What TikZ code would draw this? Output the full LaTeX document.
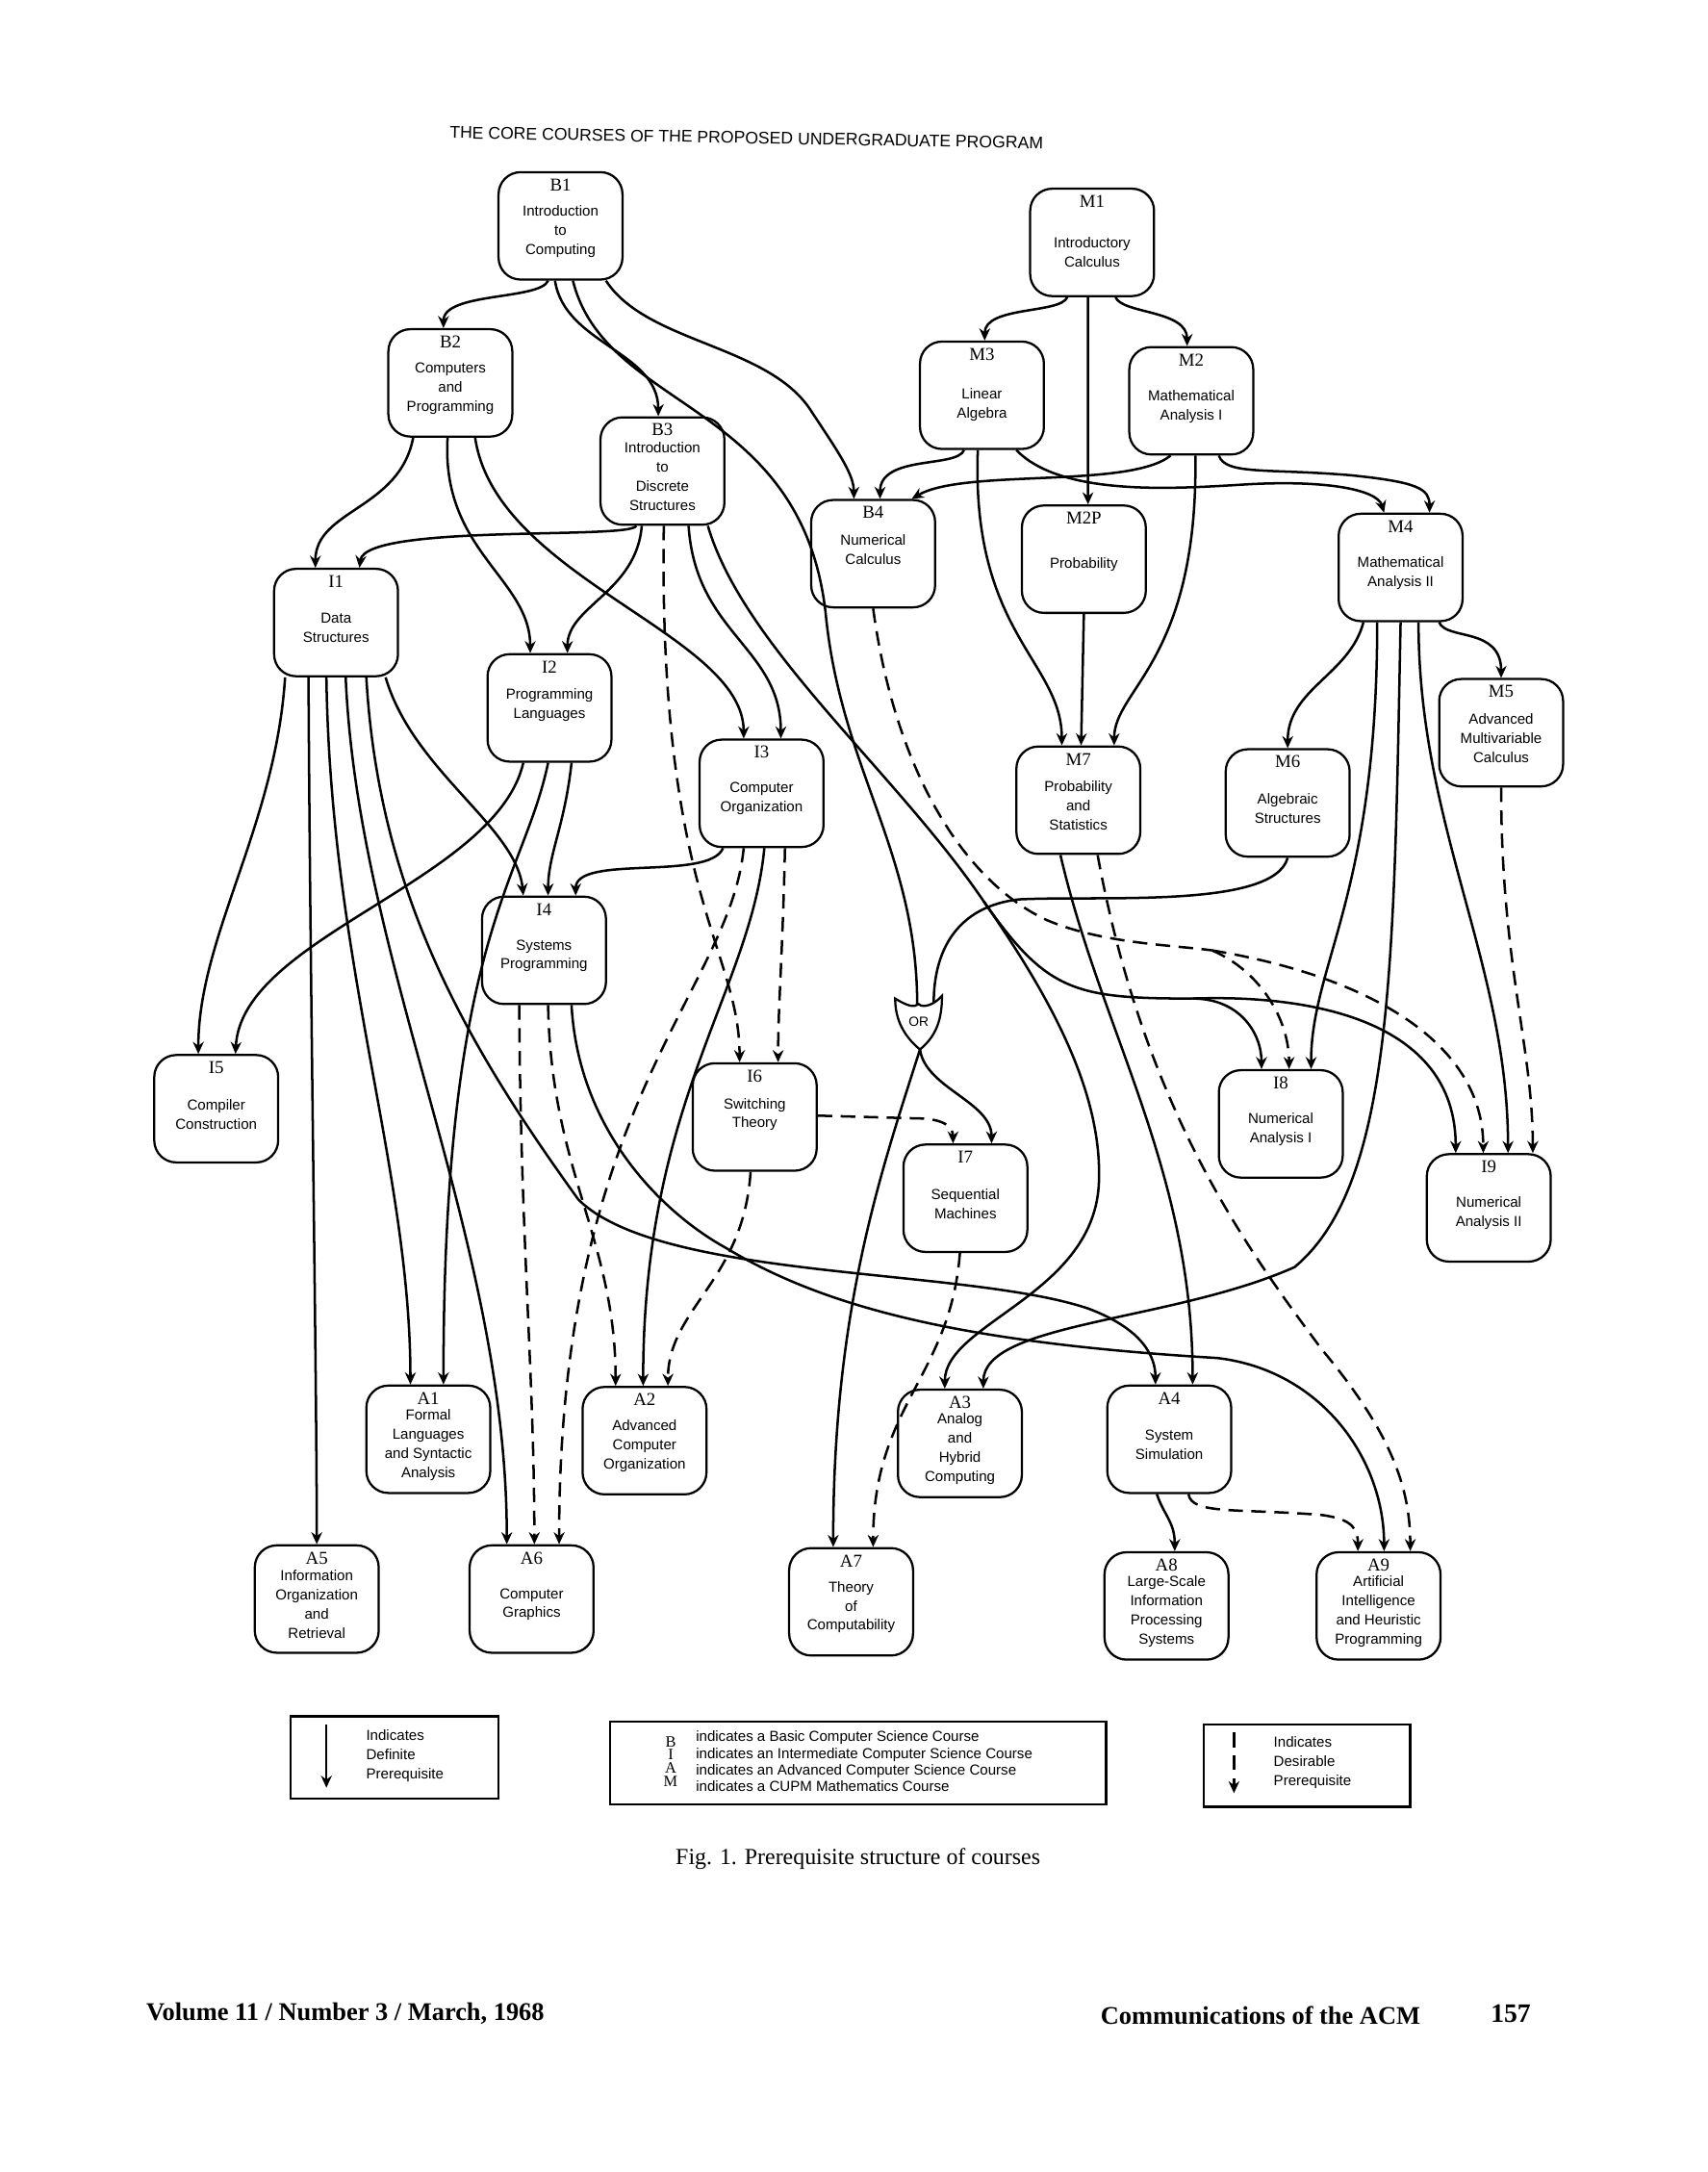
\documentclass[tikz,border=0pt]{standalone}
\usepackage{fontspec}
\setmainfont{Liberation Serif}
\setsansfont{Liberation Sans}
\usetikzlibrary{arrows.meta}
\newfontfamily\boxfont{Liberation Sans}
\tikzset{
  cbox/.style={draw, line width=0.9pt, rounded corners=0.32cm, minimum width=1.8cm, minimum height=1.56cm, inner sep=0pt},
  clab/.style={font=\rmfamily\fontsize{7.5}{8}\selectfont, inner sep=0pt},
  ctxt/.style={font=\boxfont\fontsize{6}{7.9}\selectfont, align=center, inner sep=0pt},
  defe/.style={line width=1pt, -{Stealth[length=5pt,width=4.5pt]}},
  desi/.style={line width=1pt, dash pattern=on 6pt off 3.5pt, -{Stealth[length=5pt,width=4.5pt]}},
  plain/.style={line width=1pt},
}
\newcommand\course[5]{%
  \node[cbox] (#1) at (#2,#3) {};
  \node[clab] at ([yshift=-0.2cm]#1.north) {#4};
  \node[ctxt] at ([yshift=-0.08cm]#1.center) {#5};}
\begin{document}
\begin{tikzpicture}[x=0.02cm,y=-0.02cm]
\useasboundingbox (0,0) rectangle (1240,1577);
\fill[white] (0,0) rectangle (1240,1577);
% title
\node[font=\sffamily\fontsize{7}{8}\selectfont, rotate=-1] at (542,100) {THE CORE COURSES OF THE PROPOSED UNDERGRADUATE PROGRAM};
% courses
\course{B1}{407}{164}{B1}{Introduction\\to\\Computing}
\course{B2}{327}{278}{B2}{Computers\\and\\Programming}
\course{B3}{481}{342}{B3}{Introduction\\to\\Discrete\\Structures}
\course{M1}{793}{176}{M1}{\\Introductory\\Calculus}
\course{M3}{713}{287}{M3}{\\Linear\\Algebra}
\course{M2}{865}{291}{M2}{Mathematical\\Analysis I}
\course{B4}{634}{402}{B4}{Numerical\\Calculus\\ }
\course{M2P}{787}{406}{M2P}{Probability}
\course{M4}{1017}{412}{M4}{Mathematical\\Analysis II}
\course{I1}{244}{452}{I1}{Data\\Structures}
\course{I2}{399}{514}{I2}{Programming\\Languages\\ }
\course{I3}{553}{576}{I3}{Computer\\Organization}
\course{M5}{1090}{532}{M5}{Advanced\\Multivariable\\Calculus}
\course{M7}{783}{581}{M7}{Probability\\and\\Statistics}
\course{M6}{935}{583}{M6}{Algebraic\\Structures}
\course{I4}{395}{690}{I4}{Systems\\Programming}
\course{I5}{157}{805}{I5}{Compiler\\Construction}
\course{I6}{548}{811}{I6}{Switching\\Theory\\ }
\course{I7}{701}{870}{I7}{Sequential\\Machines}
\course{I8}{930}{816}{I8}{Numerical\\Analysis I}
\course{I9}{1081}{877}{I9}{Numerical\\Analysis II}
\course{A1}{311}{1045}{A1}{Formal\\Languages\\and Syntactic\\Analysis}
\course{A2}{468}{1046}{A2}{Advanced\\Computer\\Organization}
\course{A3}{697}{1048}{A3}{Analog\\and\\Hybrid\\Computing}
\course{A4}{849}{1045}{A4}{System\\Simulation}
\course{A5}{230}{1161}{A5}{Information\\Organization\\and\\Retrieval}
\course{A6}{386}{1161}{A6}{Computer\\Graphics}
\course{A7}{618}{1163}{A7}{Theory\\of\\Computability}
\course{A8}{847}{1166}{A8}{Large-Scale\\Information\\Processing\\Systems}
\course{A9}{1001}{1166}{A9}{Artificial\\Intelligence\\and Heuristic\\Programming}
% OR gate
\draw[line width=0.9pt, fill=white] (650,725) .. controls (658,730) and (664,732) .. (667,729) .. controls (670,732) and (678,730) .. (684,723) .. controls (684,740) and (680,752) .. (668,762) .. controls (656,752) and (650,740) .. (650,725) -- cycle;
\node[font=\boxfont\fontsize{5.5}{6}\selectfont, inner sep=0pt] (OR) at (667,742) {OR};
\coordinate (ORin) at (666,730);
\coordinate (ORr) at (678,728);
\coordinate (ORout) at (668,762);
\coordinate (J1) at (714,654);
\coordinate (J2) at (880,690);
\coordinate (J3) at (866,725);
% edges from B1
\draw[defe] ([xshift=-0.18cm]B1.south) .. controls (392,218) and (322,212) .. ([xshift=-0.10cm]B2.north);
\draw[defe] ([xshift=-0.08cm]B1.south) .. controls (410,250) and (478,255) .. ([xshift=-0.06cm]B3.north);
\draw[plain] ([xshift=0.18cm]B1.south) .. controls (440,300) and (585,290) .. (600,450) .. controls (612,560) and (666,620) .. (ORin);
\draw[defe] ([xshift=0.66cm]B1.south) .. controls (470,250) and (560,250) .. (590,300) .. controls (610,330) and (620,345) .. ([xshift=-0.28cm]B4.north);
% B2
\draw[defe] ([xshift=-0.54cm]B2.south) .. controls (290,370) and (229,370) .. ([xshift=-0.30cm]I1.north);
\draw[defe] ([xshift=-0.04cm]B2.south) .. controls (320,400) and (385,420) .. ([xshift=-0.28cm]I2.north);
\draw[defe] ([xshift=0.36cm]B2.south) .. controls (360,420) and (540,460) .. ([xshift=-0.26cm]I3.north);
% B3
\draw[defe] ([xshift=-0.38cm]B3.south) .. controls (458,392) and (265,380) .. ([xshift=0.34cm]I1.north);
\draw[defe] ([xshift=-0.30cm]B3.south) .. controls (462,430) and (412,440) .. ([xshift=0.26cm]I2.north);
\draw[desi] ([xshift=0.02cm]B3.south) .. controls (478,650) and (537,690) .. ([xshift=-0.22cm]I6.north);
\draw[defe] ([xshift=0.38cm]B3.south) .. controls (505,460) and (567,470) .. ([xshift=0.28cm]I3.north);
\draw[plain] ([xshift=0.66cm]B3.south) .. controls (540,470) and (650,560) .. (J1);
\draw[defe] (J1) .. controls (760,720) and (800,790) .. (798,857) .. controls (796,940) and (686,960) .. ([xshift=-0.22cm]A3.north);
\draw[plain] (J1) .. controls (760,720) and (780,725) .. (J3);
\draw[defe] (J3) .. controls (900,725) and (916,750) .. ([xshift=-0.28cm]I8.north);
\draw[defe] (J3) .. controls (950,722) and (1057,740) .. ([xshift=-0.48cm]I9.north);
% B4
\draw[line width=1pt, dash pattern=on 6pt off 3.5pt] (B4.south) .. controls (650,560) and (700,640) .. (760,668) .. controls (800,685) and (850,686) .. (J2);
\draw[desi] (J2) .. controls (915,705) and (936,740) .. ([xshift=0.12cm]I8.north);
\draw[desi] (J2) .. controls (1000,710) and (1077,760) .. ([xshift=-0.08cm]I9.north);
% M1
\draw[defe] ([xshift=-0.36cm]M1.south) .. controls (770,228) and (715,222) .. ([xshift=0.04cm]M3.north);
\draw[defe] ([xshift=0.34cm]M1.south) .. controls (815,228) and (862,225) .. ([xshift=-0.06cm]M2.north);
\draw[defe] ([xshift=-0.06cm]M1.south) -- ([xshift=0.06cm]M2P.north);
% M3
\draw[defe] ([xshift=-0.26cm]M3.south) .. controls (695,340) and (639,330) .. ([xshift=0.10cm]B4.north);
\draw[defe] ([xshift=-0.06cm]M3.south) .. controls (705,460) and (771,480) .. ([xshift=-0.24cm]M7.north);
\draw[defe] ([xshift=0.5cm]M3.south) .. controls (770,360) and (850,355) .. (900,352) .. controls (960,348) and (1000,355) .. ([xshift=-0.24cm]M4.north);
% M2
\draw[defe] ([xshift=-0.30cm]M2.south) .. controls (820,355) and (700,340) .. ([xshift=0.56cm]B4.north);
\draw[defe] ([xshift=0.06cm]M2.south) .. controls (870,480) and (809,500) .. ([xshift=0.52cm]M7.north);
\draw[defe] ([xshift=0.40cm]M2.south) .. controls (890,345) and (920,340) .. (980,345) .. controls (1030,350) and (1038,355) .. ([xshift=0.42cm]M4.north);
\draw[defe] (M2P.south) -- ([xshift=0.04cm]M7.north);
% M4
\draw[defe] ([xshift=-0.54cm]M4.south) .. controls (980,490) and (935,500) .. (M6.north);
\draw[defe] ([xshift=-0.34cm]M4.south) .. controls (1000,650) and (952,700) .. ([xshift=0.44cm]I8.north);
\draw[defe] (M4.south) .. controls (1012,700) and (1012,860) .. (940,920) .. controls (850,960) and (714,960) .. ([xshift=0.34cm]A3.north);
\draw[defe] ([xshift=0.26cm]M4.south) .. controls (1030,600) and (1095,700) .. ([xshift=0.28cm]I9.north);
\draw[defe] ([xshift=0.56cm]M4.south) .. controls (1050,465) and (1090,455) .. (M5.north);
\draw[desi] (M5.south) .. controls (1090,700) and (1113,760) .. ([xshift=0.64cm]I9.north);
\draw[plain] (M6.south) .. controls (925,660) and (800,650) .. (740,653) .. controls (695,658) and (678,690) .. (ORr);
% M7
\draw[defe] ([xshift=-0.26cm]M7.south) .. controls (800,750) and (866,850) .. ([xshift=0.34cm]A4.north);
\draw[desi] ([xshift=0.28cm]M7.south) .. controls (830,800) and (900,900) .. (960,980) .. controls (1010,1040) and (1024,1080) .. ([xshift=0.46cm]A9.north);
% I1
\draw[defe] ([xshift=-0.74cm]I1.south) .. controls (200,600) and (144,680) .. ([xshift=-0.26cm]I5.north);
\draw[defe] ([xshift=-0.40cm]I1.south) .. controls (225,700) and (230,1000) .. (A5.north);
\draw[defe] ([xshift=-0.14cm]I1.south) .. controls (240,700) and (298,850) .. ([xshift=-0.26cm]A1.north);
\draw[defe] ([xshift=0.14cm]I1.south) .. controls (260,700) and (368,900) .. ([xshift=-0.36cm]A6.north);
\draw[defe] ([xshift=0.44cm]I1.south) .. controls (275,650) and (340,760) .. (420,871) .. controls (480,930) and (700,920) .. (790,950) .. controls (830,965) and (839,985) .. ([xshift=-0.20cm]A4.north);
\draw[defe] ([xshift=0.72cm]I1.south) .. controls (300,560) and (375,600) .. ([xshift=-0.30cm]I4.north);
% I2
\draw[defe] ([xshift=-0.38cm]I2.south) .. controls (360,640) and (175,680) .. ([xshift=0.28cm]I5.north);
\draw[defe] ([xshift=-0.02cm]I2.south) .. controls (380,640) and (322,680) .. ([xshift=0.22cm]A1.north);
\draw[defe] ([xshift=0.32cm]I2.south) .. controls (410,600) and (398,620) .. ([xshift=0.06cm]I4.north);
% I3
\draw[defe] ([xshift=-0.56cm]I3.south) .. controls (515,640) and (418,620) .. ([xshift=0.46cm]I4.north);
\draw[desi] ([xshift=-0.26cm]I3.south) .. controls (530,720) and (406,800) .. ([xshift=0.40cm]A6.north);
\draw[defe] ([xshift=0.04cm]I3.south) .. controls (545,720) and (467,800) .. ([xshift=-0.02cm]A2.north);
\draw[desi] ([xshift=0.34cm]I3.south) .. controls (568,700) and (565,730) .. ([xshift=0.34cm]I6.north);
% I4
\draw[desi] ([xshift=-0.36cm]I4.south) .. controls (378,900) and (388,1000) .. ([xshift=0.04cm]A6.north);
\draw[desi] ([xshift=0.06cm]I4.south) .. controls (400,850) and (447,900) .. ([xshift=-0.42cm]A2.north);
\draw[defe] ([xshift=0.40cm]I4.south) .. controls (420,820) and (480,880) .. (527,906) .. controls (600,950) and (700,975) .. (884,986) .. controls (960,995) and (1005,1060) .. ([xshift=0.08cm]A9.north);
% I6
\draw[desi] ([yshift=0.02cm]I6.east) -- (665,812) .. controls (685,812) and (692,818) .. ([xshift=-0.18cm]I7.north);
\draw[desi] ([xshift=-0.06cm]I6.south) .. controls (540,930) and (485,950) .. ([xshift=0.34cm]A2.north);
% OR
\draw[defe] (ORout) .. controls (672,790) and (720,800) .. ([xshift=0.38cm]I7.north);
\draw[defe] (ORout) .. controls (640,850) and (605,950) .. ([xshift=-0.26cm]A7.north);
\draw[desi] ([xshift=-0.08cm]I7.south) .. controls (690,1000) and (634,1020) .. ([xshift=0.32cm]A7.north);
% A4
\draw[defe] ([xshift=-0.18cm]A4.south) .. controls (845,1100) and (853,1105) .. ([xshift=0.12cm]A8.north);
\draw[desi] ([xshift=0.28cm]A4.south) .. controls (865,1100) and (900,1095) .. (960,1100) .. controls (982,1103) and (986,1110) .. ([xshift=-0.30cm]A9.north);
% legend
\draw[line width=1pt] (211,1246) rectangle (362,1306);
\node (L1a) at (237,1252) {};
\draw[defe] (237,1252) -- (237,1298);
\node[ctxt, align=left] at (294,1275) {Indicates\\Definite\\Prerequisite};
\draw[line width=1pt] (443,1250) rectangle (803,1310);
\node[font=\rmfamily\fontsize{6.5}{7}\selectfont, align=center] at (487,1279) {B\\[-1.5pt]I\\[-1.5pt]A\\[-1.5pt]M};
\node[ctxt, align=left, anchor=west, font=\boxfont\fontsize{6}{6.9}\selectfont] at (505,1279) {indicates a Basic Computer Science Course\\indicates an Intermediate Computer Science Course\\indicates an Advanced Computer Science Course\\indicates a CUPM Mathematics Course};
\draw[line width=1pt] (874,1252) rectangle (1024,1312);
\draw[desi] (896,1258) -- (896,1302);
\node[ctxt, align=left] at (953,1280) {Indicates\\Desirable\\Prerequisite};
% caption and footer
\node[font=\rmfamily\fontsize{9.5}{11}\selectfont] at (623,1350) {\textsc{Fig.} 1. Prerequisite structure of courses};
\node[font=\rmfamily\bfseries\fontsize{10.5}{12}\selectfont, anchor=west] at (100,1462) {Volume 11 / Number 3 / March, 1968};
\node[font=\rmfamily\bfseries\fontsize{10.5}{12}\selectfont, anchor=west] at (793,1463) {Communications of the ACM};
\node[font=\rmfamily\bfseries\fontsize{11}{12}\selectfont] at (1097,1462) {157};
\end{tikzpicture}
\end{document}
